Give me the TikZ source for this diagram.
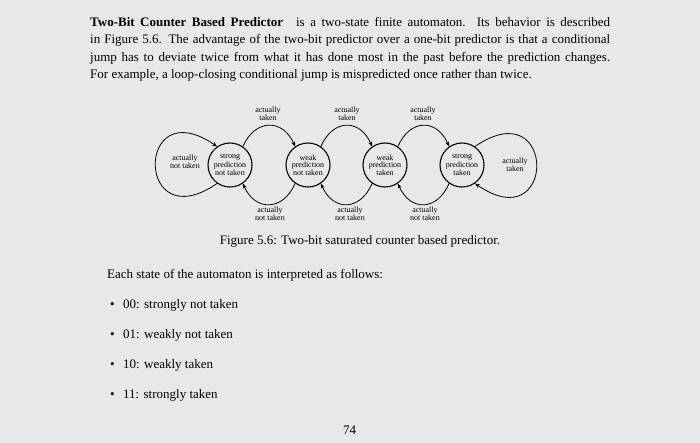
\documentclass[tikz,border=0pt]{standalone}
\usepackage{fontspec}
\setmainfont{Liberation Serif}
\usetikzlibrary{arrows.meta}
\begin{document}
\begin{tikzpicture}[x=1pt,y=-1pt,
  st/.style={circle,draw,line width=1.1pt,minimum size=44pt,inner sep=0pt,align=center,font=\fontsize{8}{7}\selectfont},
  lab/.style={align=center,font=\fontsize{8}{7}\selectfont},
  arc/.style={line width=0.8pt,-{Stealth[length=5pt,width=4pt]}},
  body/.style={anchor=base west,inner sep=0pt,font=\fontsize{13}{15}\selectfont}]
\useasboundingbox[fill=black!9] (0,0) rectangle (700,443);
\node[body] (l1) at (90,27) {\hbox to 520pt{\textbf{Two-Bit Counter Based Predictor}\quad is a two-state finite automaton. Its behavior is described}};
\node[body] (l2) at (90,44) {\hbox to 520pt{in Figure 5.6. The advantage of the two-bit predictor over a one-bit predictor is that a conditional}};
\node[body] (l3) at (90,62) {\hbox to 520pt{jump has to deviate twice from what it has done most in the past before the prediction changes.}};
\node[body] (l4) at (90,79) {For example, a loop-closing conditional jump is mispredicted once rather than twice.};

\node[st] (s1) at (230,165) {strong\\prediction\\not taken};
\node[st] (s2) at (308,165) {weak\\prediction\\not taken};
\node[st] (s3) at (385,165) {weak\\prediction\\taken};
\node[st] (s4) at (462,165) {strong\\prediction\\taken};

\foreach \a/\b in {s1/s2,s2/s3,s3/s4}{
  \draw[arc] (\a.55) .. controls +(12,-28) and +(-12,-28) .. (\b.125);
  \draw[arc] (\b.235) .. controls +(-12,28) and +(12,28) .. (\a.305);
}
\draw[arc] (s1.235) .. controls (135,240) and (135,90) .. (s1.125);
\draw[arc] (s4.55) .. controls (557,90) and (557,240) .. (s4.-55);

\node[lab] (t1) at (268,114) {actually\\taken};
\node[lab] (t2) at (347,114) {actually\\taken};
\node[lab] (t3) at (423,114) {actually\\taken};
\node[lab] (b1) at (270,214) {actually\\not taken};
\node[lab] (b2) at (350,214) {actually\\not taken};
\node[lab] (b3) at (425,214) {actually\\not taken};
\node[lab] (ln) at (185,162) {actually\\not taken};
\node[lab] (rn) at (515,165) {actually\\taken};

\node[anchor=base,font=\fontsize{13}{15}\selectfont] (cap) at (360,244) {Figure 5.6: Two-bit saturated counter based predictor.};
\node[body] (e) at (107,278) {Each state of the automaton is interpreted as follows:};
\foreach \y/\t [count=\i] in {308/00: strongly not taken,338/01: weakly not taken,368/10: weakly taken,398/11: strongly taken}{
  \node[body] (bu\i) at (110,\y) {\textbullet};
  \node[body] (it\i) at (123,\y) {\t};
}
\node[body] (pg) at (343,434) {74};
\end{tikzpicture}
\end{document}
